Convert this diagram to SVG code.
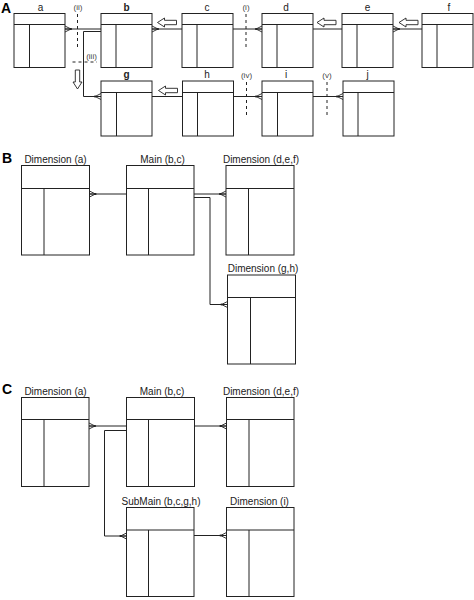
<svg xmlns="http://www.w3.org/2000/svg" xmlns:xlink="http://www.w3.org/1999/xlink" width="474" height="600" viewBox="0 0 474 600">
<style>
.box{fill:#fff;stroke:#222;stroke-width:1}
.ln{fill:none;stroke:#222;stroke-width:1}
.dash{fill:none;stroke:#222;stroke-width:1;stroke-dasharray:3,3}
.arr{fill:#fff;stroke:#222;stroke-width:0.9}
.lbl{font-family:"Liberation Sans",Arial,sans-serif;font-size:10px;fill:#222;text-anchor:middle}
.lb{font-weight:bold}
.rn{font-family:"Liberation Sans",Arial,sans-serif;font-size:8px;fill:#444;text-anchor:middle}
.pl{font-family:"Liberation Sans",Arial,sans-serif;font-size:14px;font-weight:bold;fill:#000}
</style>
<defs>
<g id="cf"><path d="M0,0 L6,-3 M0,0 L6,0 M0,0 L6,3" fill="none" stroke="#222" stroke-width="0.9"/><circle cx="0" cy="0" r="1.1" fill="#222"/></g>
<path id="la" d="M0,0 L7,-4.5 L7,-2.2 L19,-2.2 L19,2.2 L7,2.2 L7,4.5 Z"/>
</defs>

<text class="pl" x="1" y="13">A</text>
<text class="pl" x="2" y="163">B</text>
<text class="pl" x="2" y="394">C</text>

<!-- Panel A nodes -->
<g id="A-a"><rect class="box" x="14" y="13.5" width="51" height="54"/><path class="ln" d="M14,24.5H65M29.5,24.5V67.5"/><text class="lbl" x="40.5" y="11">a</text></g>
<g id="A-b"><rect class="box" x="101" y="13.5" width="51" height="54"/><path class="ln" d="M101,24.5H152M116,24.5V67.5"/><text class="lbl lb" x="126.5" y="11">b</text></g>
<g id="A-c"><rect class="box" x="182" y="13.5" width="51" height="54"/><path class="ln" d="M182,24.5H233M197,24.5V67.5"/><text class="lbl" x="207" y="11">c</text></g>
<g id="A-d"><rect class="box" x="262" y="13.5" width="51" height="54"/><path class="ln" d="M262,24.5H313M277,24.5V67.5"/><text class="lbl" x="286" y="11">d</text></g>
<g id="A-e"><rect class="box" x="342" y="13.5" width="51" height="54"/><path class="ln" d="M342,24.5H393M357,24.5V67.5"/><text class="lbl" x="367.5" y="11">e</text></g>
<g id="A-f"><rect class="box" x="422" y="13.5" width="51" height="54"/><path class="ln" d="M422,24.5H473M437,24.5V67.5"/><text class="lbl" x="449" y="11">f</text></g>
<g id="A-g"><rect class="box" x="101" y="81" width="51" height="55"/><path class="ln" d="M101,92.5H152M116.5,92.5V136"/><text class="lbl lb" x="126.5" y="78">g</text></g>
<g id="A-h"><rect class="box" x="182.5" y="81" width="51" height="55"/><path class="ln" d="M182.5,92.5H233.5M197.5,92.5V136"/><text class="lbl" x="207" y="78">h</text></g>
<g id="A-i"><rect class="box" x="262" y="81" width="51" height="55"/><path class="ln" d="M262,92.5H313M277.5,92.5V136"/><text class="lbl" x="286" y="78">i</text></g>
<g id="A-j"><rect class="box" x="343" y="81" width="51" height="55"/><path class="ln" d="M343,92.5H394M358,92.5V136"/><text class="lbl" x="367.5" y="78">j</text></g>

<!-- Panel B nodes -->
<g id="B-a"><rect class="box" x="21.5" y="165.5" width="68" height="89.5"/><path class="ln" d="M21.5,188.5H89.5M44,188.5V255"/><text class="lbl" x="55.5" y="163">Dimension (a)</text></g>
<g id="B-main"><rect class="box" x="126.5" y="165.5" width="67.5" height="89.5"/><path class="ln" d="M126.5,188.5H194M148.5,188.5V255"/><text class="lbl" x="162.5" y="163">Main (b,c)</text></g>
<g id="B-def"><rect class="box" x="226" y="165.5" width="68" height="89.5"/><path class="ln" d="M226,188.5H294M248.5,188.5V255"/><text class="lbl" x="261" y="163">Dimension (d,e,f)</text></g>
<g id="B-gh"><rect class="box" x="227.5" y="275" width="68" height="89"/><path class="ln" d="M227.5,297.5H295.5M250.5,297.5V364"/><text class="lbl" x="263" y="272">Dimension (g,h)</text></g>

<!-- Panel C nodes -->
<g id="C-a"><rect class="box" x="21.5" y="397.5" width="67.5" height="89"/><path class="ln" d="M21.5,419.5H89M44,419.5V486.5"/><text class="lbl" x="55.5" y="395">Dimension (a)</text></g>
<g id="C-main"><rect class="box" x="126.5" y="397.5" width="68" height="89"/><path class="ln" d="M126.5,419.5H194.5M148.5,419.5V486.5"/><text class="lbl" x="162" y="395">Main (b,c)</text></g>
<g id="C-def"><rect class="box" x="226.5" y="397.5" width="67.5" height="89"/><path class="ln" d="M226.5,419.5H294M249,419.5V486.5"/><text class="lbl" x="261" y="395">Dimension (d,e,f)</text></g>
<g id="C-sub"><rect class="box" x="126.5" y="507.5" width="67.5" height="89"/><path class="ln" d="M126.5,530H194M148.5,530V596.5"/><text class="lbl" x="161" y="505">SubMain (b,c,g,h)</text></g>
<g id="C-i"><rect class="box" x="226.5" y="507.5" width="67.5" height="89"/><path class="ln" d="M226.5,530H294M249,530V596.5"/><text class="lbl" x="259.5" y="505">Dimension (i)</text></g>

<g id="connectors">
<!-- Panel A -->
<path class="ln" d="M65,29H101"/>
<use xlink:href="#cf" transform="translate(71,29) scale(-1,1)"/>
<path class="ln" d="M101,31.5H83.5V96.5H101"/>
<use xlink:href="#cf" transform="translate(95,96.5)"/>
<path class="ln" d="M152,29H182"/>
<use xlink:href="#cf" transform="translate(158,29) scale(-1,1)"/>
<path class="ln" d="M233,29H262"/>
<use xlink:href="#cf" transform="translate(256,29)"/>
<path class="ln" d="M313,29H342"/>
<path class="ln" d="M393,29H422"/>
<use xlink:href="#cf" transform="translate(399,29) scale(-1,1)"/>
<path class="ln" d="M152,96.5H182.5"/>
<path class="ln" d="M233.5,96.5H262"/>
<use xlink:href="#cf" transform="translate(256,96.5)"/>
<path class="ln" d="M313,96.5H343"/>
<use xlink:href="#cf" transform="translate(337,96.5)"/>

<path class="dash" d="M77.5,14V49"/>
<path class="dash" d="M72.5,62H97"/>
<path class="dash" d="M246,14V49"/>
<path class="dash" d="M246.5,82V117"/>
<path class="dash" d="M327,82V117"/>
<text class="rn" x="78" y="10">(ii)</text>
<text class="rn" x="91.5" y="59">(iii)</text>
<text class="rn" x="246" y="10">(i)</text>
<text class="rn" x="246.5" y="78">(iv)</text>
<text class="rn" x="327" y="78">(v)</text>

<use xlink:href="#la" class="arr" transform="translate(157.5,22.5)"/>
<use xlink:href="#la" class="arr" transform="translate(317,22.5)"/>
<use xlink:href="#la" class="arr" transform="translate(399,22.5)"/>
<use xlink:href="#la" class="arr" transform="translate(158.5,90.5)"/>
<use xlink:href="#la" class="arr" transform="translate(77.5,89) rotate(-90)"/>

<!-- Panel B -->
<path class="ln" d="M89.5,194H126.5"/>
<use xlink:href="#cf" transform="translate(95.5,194) scale(-1,1)"/>
<path class="ln" d="M194,194H226"/>
<use xlink:href="#cf" transform="translate(220,194)"/>
<path class="ln" d="M194,197.5H210V304.5H227.5"/>
<use xlink:href="#cf" transform="translate(221.5,304.5)"/>

<!-- Panel C -->
<path class="ln" d="M89,426H126.5"/>
<use xlink:href="#cf" transform="translate(95,426) scale(-1,1)"/>
<path class="ln" d="M126.5,430.5H104.5V536H126.5"/>
<use xlink:href="#cf" transform="translate(120.5,536)"/>
<path class="ln" d="M194.5,426H226.5"/>
<use xlink:href="#cf" transform="translate(220.5,426)"/>
<path class="ln" d="M194,535.5H226.5"/>
<use xlink:href="#cf" transform="translate(220.5,535.5)"/>
</g>
</svg>
